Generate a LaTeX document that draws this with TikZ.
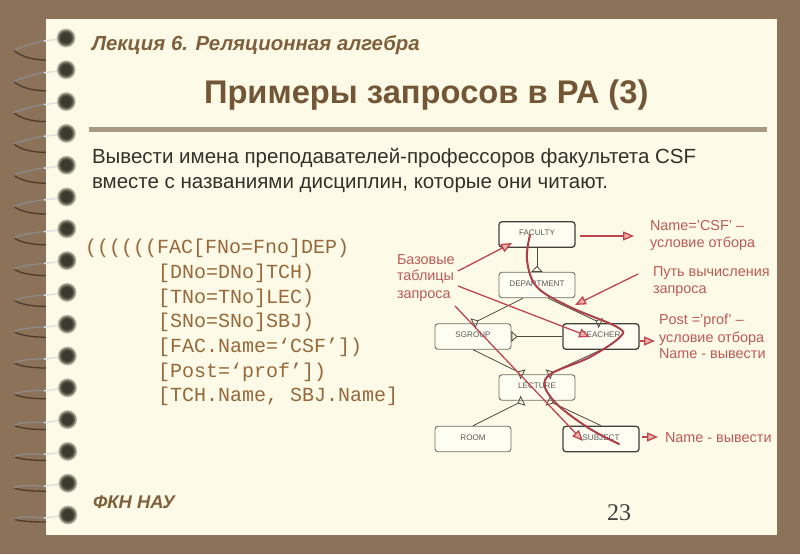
\documentclass[tikz,border=0pt]{standalone}
\usepackage{fontspec}
\setmainfont{Liberation Sans}
\setmonofont{Liberation Mono}
\newfontfamily\serifnum{Liberation Serif}
\usetikzlibrary{arrows.meta}
\definecolor{bgbrown}{HTML}{8B7258}
\definecolor{paper}{HTML}{FDFBE8}
\definecolor{headbrown}{HTML}{80603C}
\definecolor{codebrown}{HTML}{96683A}
\definecolor{bodydark}{HTML}{33302A}
\definecolor{redline}{HTML}{BF4650}
\definecolor{redtext}{HTML}{BC5A55}
\definecolor{redfill}{HTML}{EDB4A8}
\definecolor{ruleC}{HTML}{A89A82}
\definecolor{boxedge}{HTML}{6E6E66}
\definecolor{reldark}{HTML}{4C4C3C}
\definecolor{ballrim}{HTML}{C4C1AE}
\definecolor{ballcore}{HTML}{3A3A2E}
\definecolor{wirelow}{HTML}{4E3A2C}
\tikzset{
  x=1pt,y=-1pt,
  txt/.style={anchor=base west,inner sep=0pt,outer sep=0pt},
  head/.style={txt,text=headbrown,font=\fontsize{20.4}{22}\selectfont\bfseries\itshape},
  foothead/.style={head,font=\fontsize{18.4}{20}\selectfont\bfseries\itshape},
  body/.style={txt,text=bodydark,font=\fontsize{20.5}{22}\selectfont},
  code/.style={txt,text=codebrown,font=\fontsize{20}{22}\ttfamily},
  note/.style={txt,text=redtext,font=\fontsize{14.4}{16}\selectfont},
  entity/.style={draw=boxedge,line width=0.9pt,fill=paper!60!white,rounded corners=3pt,minimum width=76pt,minimum height=25.5pt,inner sep=0pt,text=black!65,text height=6pt,text depth=4pt,font=\fontsize{8.1}{10}\selectfont},
  strong/.style={entity,draw=black!75,line width=1.3pt},
  rel/.style={draw=reldark,line width=0.8pt},
  crow/.style={rel,-{Triangle[open,reversed,length=6pt,width=11pt]}},
  redarrow/.style={draw=redline,line width=1.3pt,-{Triangle[length=11pt,width=9pt,fill=redfill,color=redline]}},
}
\begin{document}
\begin{tikzpicture}
\useasboundingbox (0,0) rectangle (800,554);
\fill[bgbrown] (0,0) rectangle (800,554);
\fill[paper] (46,19) rectangle (777,535);
% spiral binding
\foreach \i in {0,...,15}{
  \pgfmathsetmacro{\yy}{38+31.8*\i}
  \pgfmathsetmacro{\t}{\i/15}
  \pgfmathsetmacro{\bx}{66+2*\t}
  \pgfmathsetmacro{\ly}{12-8*\t}
  \pgfmathsetmacro{\ry}{22-15*\t}
  \draw[wirelow,line width=1.3pt] (14,\yy+\ly) .. controls (18,\yy+\ly+5-3*\t) and (30,\yy+\ry) .. (46,\yy+\ry);
  \draw[black!45,line width=1.2pt] (14,\yy+\ly) .. controls (24,\yy+\ly-4) and (38,\yy+4-1*\t) .. (46,\yy+2+1*\t);
  \draw[white!75!gray,line width=1.5pt] (44,\yy+3) -- (60,\yy+1);
  \foreach \rr/\pp in {9.5/100,8.7/75,7.9/50,7.1/28,6.3/12,5.5/0}{
    \fill[ballrim!\pp!ballcore] (\bx,\yy) circle (\rr);
  }
}
% headings
\node[head] (lecture) at (92,50) {Лекция 6. Реляционная алгебра};
\node[txt,text=headbrown!90!black,font=\fontsize{32.7}{36}\selectfont\bfseries] (title) at (204,103) {Примеры запросов в РА (3)};
\fill[ruleC] (89,127) rectangle (767,131.5);
\node[body] (line1) at (92,163) {Вывести имена преподавателей-профессоров факультета CSF};
\node[body] (line2) at (92,188) {вместе с названиями дисциплин, которые они читают.};
% code
\node[code] (c1) at (85,253) {((((((FAC[FNo=Fno]DEP)};
\node[code] (c2) at (158,278) {[DNo=DNo]TCH)};
\node[code] (c3) at (158,303) {[TNo=TNo]LEC)};
\node[code] (c4) at (158,327) {[SNo=SNo]SBJ)};
\node[code] (c5) at (158,352) {[FAC.Name=‘CSF’])};
\node[code] (c6) at (158,377) {[Post=‘prof’])};
\node[code] (c7) at (158,401) {[TCH.Name, SBJ.Name]};
% entities
\node[strong] (fac) at (537,234.5) {FACULTY};
\node[entity] (dep) at (537,285) {DEPARTMENT};
\node[entity] (sgr) at (473,336.5) {SGROUP};
\node[strong] (tch) at (601,336.5) {TEACHER};
\node[entity] (lec) at (537,387.5) {LECTURE};
\node[entity] (room) at (473,439) {ROOM};
\node[strong] (sbj) at (601,439) {SUBJECT};
% relations
\draw[crow] (fac.south) -- (dep.north);
\draw[crow] ([xshift=-14pt]dep.south) -- (sgr.north);
\draw[crow] ([xshift=11pt]dep.south) -- (tch.north);
\draw[crow] (tch.west) -- (sgr.east);
\draw[crow] (sgr.south) -- ([xshift=-14pt]lec.north);
\draw[crow] (tch.south) -- ([xshift=11pt]lec.north);
\draw[crow] (room.north) -- ([xshift=-14pt]lec.south);
\draw[crow] (sbj.north) -- ([xshift=11pt]lec.south);
% notes
\node[note] (n1) at (650,230) {Name='CSF' –};
\node[note] (n2) at (650,247) {условие отбора};
\node[note] (n3) at (653,276) {Путь вычисления};
\node[note] (n4) at (653,293) {запроса};
\node[note] (n5) at (659,324) {Post ='prof' –};
\node[note] (n6) at (659,342) {условие отбора};
\node[note] (n7) at (659,358) {Name - вывести};
\node[note] (n8) at (665,442) {Name - вывести};
\node[note] (b1) at (397,264) {Базовые};
\node[note] (b2) at (397,280) {таблицы};
\node[note] (b3) at (397,298) {запроса};
% red connectors
\coordinate (a1s) at (580,236); \coordinate (a1e) at (634,236);
\coordinate (a2s) at (458,271); \coordinate (a2e) at (512,243);
\coordinate (a3s) at (458,286); \coordinate (a3e) at (590,337);
\coordinate (a4s) at (455,306); \coordinate (a4e) at (583,441);
\coordinate (a5s) at (638,274); \coordinate (a5e) at (575,305);
\coordinate (a6s) at (640,341); \coordinate (a6e) at (655,341);
\coordinate (a7s) at (642,437); \coordinate (a7e) at (658,437);
\draw[redarrow] (a1s) -- (a1e);
\draw[redarrow] (a2s) -- (a2e);
\draw[redarrow] (a3s) -- (a3e);
\draw[redarrow] (a4s) -- (a4e);
\draw[redarrow] (a5s) -- (a5e);
\draw[redarrow] (a6s) -- (a6e);
\draw[redarrow] (a7s) -- (a7e);
\draw[draw=redline!90!black,line width=2pt,line cap=round] plot[smooth,tension=0.6] coordinates {(530,235) (527,260) (537,287) (570,307) (617,327) (620,337) (590,357) (547,377) (553,400) (587,427) (619,444)};
% page number
\node[txt,text=black!75,font=\fontsize{24}{26}\serifnum] (pg) at (607,520) {23};
\node[foothead] (foot) at (93,508) {ФКН НАУ};
\end{tikzpicture}
\end{document}
